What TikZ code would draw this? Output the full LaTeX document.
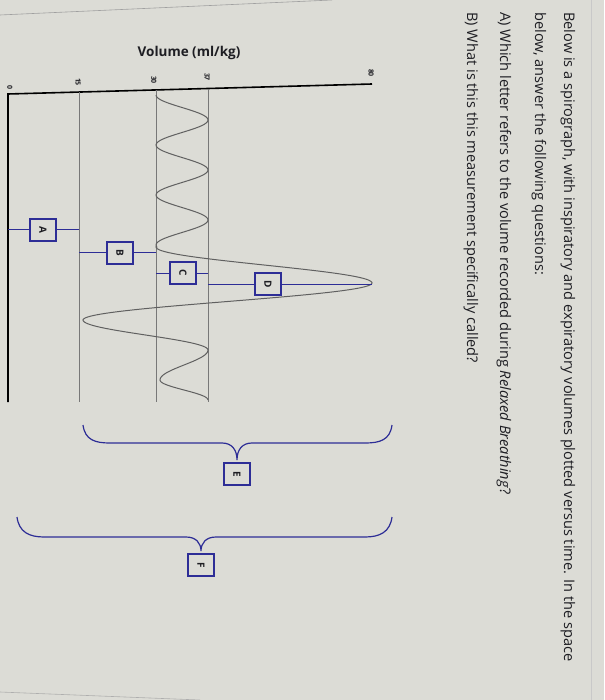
\documentclass[tikz,border=0pt]{standalone}
\usepackage{fontspec}
\setmainfont{Open Sans}
\definecolor{bg}{RGB}{220,220,214}
\definecolor{ink}{RGB}{30,30,35}
\definecolor{mblue}{RGB}{45,45,150}
\definecolor{grid}{RGB}{120,120,120}
\tikzset{
  qtext/.style={rotate=-90,anchor=west,inner sep=0pt,text=ink,font=\fontsize{14.6}{16}\selectfont},
  tick/.style={rotate=-90,inner sep=0pt,text=ink,font=\fontsize{7}{8}\selectfont\bfseries},
  lbox/.style={draw=mblue,line width=1.1pt,fill=bg,minimum width=26pt,minimum height=22pt,inner sep=0pt,text=ink,font=\fontsize{10}{11}\selectfont\bfseries},
  blue/.style={draw=mblue,line width=1pt},
  gridl/.style={draw=grid,line width=0.6pt},
  wave/.style={draw=grid!80!black,line width=1pt}
}
\begin{document}
\begin{tikzpicture}[x=1pt,y=-1pt]
\fill[bg] (0,0) rectangle (604,700);
\useasboundingbox (0,0) rectangle (604,700);
\draw[grid!70,line width=0.6pt] (0,15) -- (332,0);
\draw[grid!40,line width=1pt] (591,0) -- (591,700);
\draw[grid!60,line width=0.6pt] (0,692) -- (200,700);
% text
\node[qtext] (l1) at (568,12) {Below is a spirograph, with inspiratory and expiratory volumes plotted versus time. In the space};
\node[qtext] (l2) at (539,12) {below, answer the following questions:};
\node[qtext] (l3) at (504,12) {A) Which letter refers to the volume recorded during \textit{Relaxed Breathing}?};
\node[qtext] (l4) at (471,12) {B) What is this this measurement specifically called?};
\node[text=ink,font=\fontsize{13.5}{15}\selectfont\bfseries] (vol) at (189,53) {Volume (ml/kg)};
% axes
\coordinate (o) at (8,94);
\coordinate (top) at (372,84);
\coordinate (bot) at (8,402);
\draw[black,line width=1.6pt] (top) -- (o) -- (bot);
\node[tick] (t0) at (10,88) {0};
\node[tick] (t15) at (78,82) {15};
\node[tick] (t30) at (154,80) {30};
\node[tick] (t37) at (207,77) {37};
\node[tick] (t80) at (371,73) {80};
\draw[gridl] (79,92) -- (79,402);
\draw[gridl] (156,90) -- (156,402);
\draw[gridl] (208,89) -- (208,402);
% wave
\draw[wave] plot[domain=95:247,samples=120,variable=\t] ({182-26*cos(7.2*(\t-95))},\t)
  -- plot[domain=247:283,samples=40,variable=\t] ({264-108*cos(5*(\t-247))},\t)
  -- plot[domain=283:320,samples=40,variable=\t] ({227.5+144.5*cos(4.865*(\t-283))},\t)
  -- plot[domain=320:350,samples=30,variable=\t] ({145.5-62.5*cos(6*(\t-320))},\t)
  -- plot[domain=350:380,samples=30,variable=\t] ({184+24*cos(6*(\t-350))},\t)
  -- plot[domain=380:400,samples=20,variable=\t] ({184-24*cos(9*(\t-380))},\t);
% markers
\coordinate (a1) at (8,230); \coordinate (a2) at (79,230);
\coordinate (b1) at (79,253); \coordinate (b2) at (156,253);
\coordinate (c1) at (156,273); \coordinate (c2) at (208,273);
\coordinate (d1) at (208,284); \coordinate (d2) at (372,284);
\draw[blue] (a1) -- (a2); \draw[blue] (b1) -- (b2);
\draw[blue] (c1) -- (c2); \draw[blue] (d1) -- (d2);
\node[lbox] (A) at (43,230) {\rotatebox{-90}{A}};
\node[lbox] (B) at (120,253) {\rotatebox{-90}{B}};
\node[lbox] (C) at (183,273) {\rotatebox{-90}{C}};
\node[lbox] (D) at (268,284) {\rotatebox{-90}{D}};
% braces
\draw[blue,line width=1.2pt] (83,425) .. controls (85,440) and (95,443) .. (110,443)
  -- (222,443) .. controls (232,443) and (237,450) .. (237,460)
  .. controls (237,450) and (242,443) .. (252,443)
  -- (365,443) .. controls (380,443) and (390,440) .. (392,425);
\node[lbox] (E) at (237,474) {\rotatebox{-90}{E}};
\draw[blue,line width=1.2pt] (17,517) .. controls (19,532) and (29,537) .. (44,537)
  -- (186,537) .. controls (196,537) and (201,543) .. (201,551)
  .. controls (201,543) and (206,537) .. (216,537)
  -- (365,537) .. controls (380,537) and (390,532) .. (392,517);
\node[lbox] (F) at (201,565) {\rotatebox{-90}{F}};
\end{tikzpicture}
\end{document}
